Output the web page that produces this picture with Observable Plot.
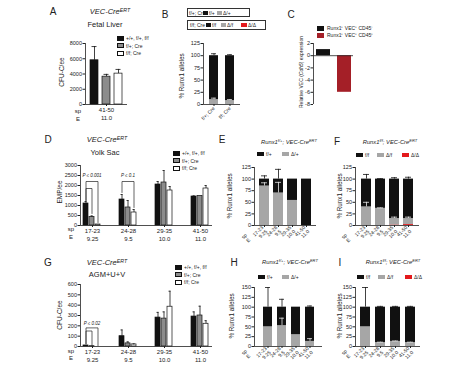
<!DOCTYPE html>
<html><head><meta charset="utf-8">
<script src="https://cdn.jsdelivr.net/npm/d3@7"></script>
<script src="https://cdn.jsdelivr.net/npm/@observablehq/plot@0.6"></script>
<style>
html,body{margin:0;padding:0;background:#fff;}
#fig{position:relative;width:474px;height:375px;overflow:hidden;font-family:"Liberation Sans",Arial,sans-serif;color:#222;background:#fff;}
#fig svg{position:absolute;overflow:visible;}
sup{font-size:70%;vertical-align:0;position:relative;top:-0.45em;}
</style></head><body><div id="fig"></div>
<script>
// ---------- data ----------
const genotypes = ["+/+, f/+, f/f", "f/+; Cre", "f/f; Cre"];
const genoColors = ["#111111", "#8c8c8c", "#ffffff"];
const alleleKeys = ["intact", "delta", "deltaDelta"];
const alleleColors = ["#111111", "#a6a6a6", "#e3191c"];

// A  Fetal liver (CFU-C/ee), one stage
const A_sp = ["41-50"], A_E = ["11.0"];
const A_ctrl = [5800], A_ctrl_sem = [1800];
const A_het = [3650], A_het_sem = [300];
const A_ko = [4050], A_ko_sem = [550];

// B  % Runx1 alleles
const B_bars = ["f/+; Cre", "f/f; Cre"];
const B_delta = [10, 8], B_delta_err = [3, 2];
const B_intact = [90, 92], B_intact_err = [4, 2];

// C  relative VEC expression
const C_groups = ["Runx1\u207A VEC\u207A CD45\u207B", "Runx1\u207A VEC\u207A CD45\u207A"];
const C_values = [1, -6];
const C_colors = ["#111111", "#a41f27"];

// stages
const stages_sp = ["17-23", "24-28", "29-35", "41-50"];
const stages_E = ["9.25", "9.5", "10.0", "11.0"];

// D  Yolk sac EMP/ee
const D_ctrl = [1100, 1300, 2050, 1450], D_ctrl_sem = [100, 250, 150, 30];
const D_het = [420, 900, 2150, 1480], D_het_sem = [60, 350, 600, 0];
const D_ko = [50, 650, 1750, 1850], D_ko_sem = [0, 150, 200, 150];
const D_brackets = [
  {sp: "17-23", a: 0, b: 2, y: 2200, ya: 1250, yb: 150},
  {sp: "17-23", a: 0, b: 1, y: 1850, ya: 1250, yb: 600},
  {sp: "24-28", a: 0, b: 2, y: 2200, ya: 1650, yb: 900}
];
const D_notes = [{sp: "17-23", y: 2480, text: "P \u2264 0.001"}, {sp: "24-28", y: 2480, text: "P \u2264 0.1"}];

// E  Runx1 f/+ ; yolk sac
const E_delta = [85, 70, 54, 0], E_delta_err = [7, 23, 0, 0];
const E_intact = [15, 30, 46, 100], E_intact_err = [7, 21, 0, 0];
// F  Runx1 f/f ; yolk sac
const F_dd = [0, 0, 1, 2];
const F_delta = [40, 37, 14, 13], F_delta_err = [10, 1, 3, 3];
const F_intact = [60, 63, 85, 85], F_intact_err = [10, 1, 3, 4];

// G  AGM+U+V CFU-C/ee
const G_ctrl = [10, 100, 280, 290], G_ctrl_sem = [0, 60, 50, 45];
const G_het = [3, 30, 270, 300], G_het_sem = [0, 15, 65, 90];
const G_ko = [0, 20, 385, 220], G_ko_sem = [0, 5, 150, 30];
const G_brackets = [
  {sp: "17-23", a: 0, b: 2, y: 180, ya: 25, yb: 8},
  {sp: "17-23", a: 0, b: 1, y: 150, ya: 25, yb: 8}
];
const G_notes = [{sp: "17-23", y: 225, text: "P \u2264 0.02"}];

// H  Runx1 f/+ ; AGM
const H_delta = [50, 53, 30, 13], H_delta_err = [0, 19, 0, 7];
const H_intact = [50, 47, 70, 87], H_intact_err = [50, 20, 0, 3];
// I  Runx1 f/f ; AGM
const I_dd = [0, 0, 0, 0];
const I_delta = [50, 10, 13, 10], I_delta_err = [0, 1, 1, 1];
const I_intact = [50, 90, 87, 90], I_intact_err = [50, 2, 2, 2];

// ---------- helpers ----------
const fig = document.getElementById("fig");
const STYLE = {fontSize: "5.5px", fontFamily: "'Liberation Sans', Arial, sans-serif", color: "#222", background: "transparent", overflow: "visible"};

function put(el, left, top) { el.style.left = left + "px"; el.style.top = top + "px"; fig.appendChild(el); }
function txt(html, x, y, o = {}) {
  const d = document.createElement("div");
  const size = o.size || 6, anchor = o.anchor || "middle";
  const tx = anchor === "middle" ? -50 : anchor === "end" ? -100 : 0;
  d.innerHTML = html;
  d.style.cssText = `position:absolute;left:${x}px;top:${y}px;font-size:${size}px;font-style:${o.italic ? "italic" : "normal"};white-space:nowrap;line-height:${o.lh || 1};text-align:center;transform:translate(${tx}%,-50%) rotate(${o.rotate || 0}deg);transform-origin:${anchor === "start" ? "left center" : "center"};`;
  fig.appendChild(d);
}
function sw(x, y, color, w = 7, h = 5, border = true) {
  const d = document.createElement("div");
  d.style.cssText = `position:absolute;left:${x}px;top:${y - h / 2}px;width:${w}px;height:${h}px;background:${color};box-sizing:border-box;${border ? "border:0.8px solid #111;" : ""}`;
  fig.appendChild(d);
}
function box(x1, y1, x2, y2) {
  const d = document.createElement("div");
  d.style.cssText = `position:absolute;left:${x1}px;top:${y1}px;width:${x2 - x1}px;height:${y2 - y1}px;border:0.8px solid #333;box-sizing:border-box;`;
  fig.appendChild(d);
}

function axesOverlay(common, yTicks) {
  return Plot.plot({...common, x: {domain: [0, 1], axis: null}, marks: [
    Plot.ruleY([0], {stroke: "#222", strokeWidth: 0.8}),
    Plot.ruleX([0], {stroke: "#222", strokeWidth: 0.8}),
    Plot.axisY({ticks: yTicks, tickSize: 2.5, tickPadding: 1, tickFormat: d => String(d), label: null, fontSize: 5.5})
  ]});
}

function grouped(c) {
  const mL = 30, mR = 4, mT = 6, mB = 26;
  const width = c.xEnd - c.axisX + mL + mR, height = c.yBot - c.yTop + mT + mB;
  const rows = [];
  c.sp.forEach((g, i) => genotypes.forEach((k, j) => rows.push({g, k, v: c.means[j][i], e: c.sems[j][i]})));
  const errRows = rows.filter(d => d.e > 0);
  const lines = [];
  (c.brackets || []).forEach((b, n) => {
    const a = genotypes[b.a], z = genotypes[b.b];
    lines.push({id: n, g: b.sp, k: a, y: b.ya}, {id: n, g: b.sp, k: a, y: b.y}, {id: n, g: b.sp, k: z, y: b.y}, {id: n, g: b.sp, k: z, y: b.yb});
  });
  const common = {width, height, marginLeft: mL, marginRight: mR, marginTop: mT, marginBottom: mB, style: STYLE, y: {domain: c.yDomain, axis: null}};
  const main = Plot.plot({...common,
    fx: {domain: c.sp, paddingInner: c.fxPad[0], paddingOuter: c.fxPad[1], axis: null, label: null},
    x: {domain: genotypes, paddingInner: c.xPad, paddingOuter: 0, axis: null},
    color: {domain: genotypes, range: genoColors},
    marks: [
      Plot.barY(rows, {fx: "g", x: "k", y: "v", fill: "k", stroke: "#111", strokeWidth: 0.7}),
      Plot.ruleX(errRows, {fx: "g", x: "k", y1: "v", y2: d => d.v + d.e, stroke: "#111", strokeWidth: 0.8}),
      Plot.tickY(errRows, {fx: "g", x: "k", y: d => d.v + d.e, stroke: "#111", strokeWidth: 0.8, insetLeft: 1.5, insetRight: 1.5}),
      Plot.line(lines, {fx: "g", x: "k", y: "y", z: "id", stroke: "#222", strokeWidth: 0.7}),
      Plot.text(c.notes || [], {fx: "sp", x: () => genotypes[1], y: "y", text: "text", fontSize: 4.5, fontStyle: "italic"}),
      Plot.axisFx({anchor: "bottom", tickSize: 2, tickPadding: 0.5, fontSize: 6, lineHeight: 1.25, label: null,
        tickFormat: d => d + "\n" + c.E[c.sp.indexOf(d)]})
    ]});
  put(main, c.axisX - mL, c.yTop - mT);
  put(axesOverlay(common, c.yTicks), c.axisX - mL, c.yTop - mT);
}

function stacked(c) {
  const mL = 24, mR = 4, mT = 6, mB = 34;
  const width = c.xEnd - c.axisX + mL + mR, height = c.yBot - c.yTop + mT + mB;
  const red = c.red || c.bars.map(() => 0);
  const rows = [];
  c.bars.forEach((b, i) => {
    rows.push({b, a: alleleKeys[2], v: red[i]}, {b, a: alleleKeys[1], v: c.gray[i]}, {b, a: alleleKeys[0], v: c.black[i]});
  });
  const gErr = c.bars.map((b, i) => ({b, y1: red[i] + c.gray[i], y2: red[i] + c.gray[i] + c.grayErr[i]})).filter(d => d.y2 > d.y1);
  const kErr = c.bars.map((b, i) => { const t = red[i] + c.gray[i] + c.black[i]; return {b, y1: t, y2: t + c.blackErr[i]}; }).filter(d => d.y2 > d.y1);
  const common = {width, height, marginLeft: mL, marginRight: mR, marginTop: mT, marginBottom: mB, style: STYLE, y: {domain: c.yDomain, axis: null}};
  const main = Plot.plot({...common,
    x: {domain: c.bars, paddingInner: c.pad[0], paddingOuter: c.pad[1], axis: null},
    color: {domain: alleleKeys, range: alleleColors},
    marks: [
      Plot.barY(rows, {x: "b", y: "v", fill: "a", order: [alleleKeys[2], alleleKeys[1], alleleKeys[0]]}),
      Plot.ruleX(gErr, {x: "b", y1: "y1", y2: "y2", stroke: "#e8e8e8", strokeWidth: 0.8}),
      Plot.tickY(gErr, {x: "b", y: "y2", stroke: "#e8e8e8", strokeWidth: 0.8, insetLeft: 2, insetRight: 2}),
      Plot.ruleX(kErr, {x: "b", y1: "y1", y2: "y2", stroke: "#111", strokeWidth: 0.8}),
      Plot.tickY(kErr, {x: "b", y: "y2", stroke: "#111", strokeWidth: 0.8, insetLeft: 2, insetRight: 2}),
      Plot.axisX({tickRotate: -45, tickSize: 2, tickPadding: 1, fontSize: 5, lineHeight: 1.1, label: null,
        tickFormat: d => c.sub ? d + "\n" + c.sub[c.bars.indexOf(d)] : d})
    ]});
  put(main, c.axisX - mL, c.yTop - mT);
  put(axesOverlay(common, c.yTicks), c.axisX - mL, c.yTop - mT);
}

function simpleBars(c) {
  const mL = 24, mR = 4, mT = 6, mB = 10;
  const width = c.xEnd - c.axisX + mL + mR, height = c.yBot - c.yTop + mT + mB;
  const rows = c.groups.map((g, i) => ({g, v: c.values[i]}));
  const common = {width, height, marginLeft: mL, marginRight: mR, marginTop: mT, marginBottom: mB, style: STYLE, y: {domain: c.yDomain, axis: null}};
  const main = Plot.plot({...common,
    x: {domain: c.groups, paddingInner: c.pad[0], paddingOuter: c.pad[1], axis: null},
    color: {domain: c.groups, range: c.colors},
    marks: [Plot.barY(rows, {x: "g", y: "v", fill: "g"})]});
  put(main, c.axisX - mL, c.yTop - mT);
  put(axesOverlay(common, c.yTicks), c.axisX - mL, c.yTop - mT);
}

// ---------- panels ----------
grouped({axisX: 85, xEnd: 127, yTop: 43, yBot: 104, yDomain: [0, 8000], yTicks: [0, 2000, 4000, 6000, 8000],
  sp: A_sp, E: A_E, means: [A_ctrl, A_het, A_ko], sems: [A_ctrl_sem, A_het_sem, A_ko_sem], fxPad: [0.1, 0.1], xPad: 0.3});
grouped({axisX: 80, xEnd: 212, yTop: 165, yBot: 225, yDomain: [0, 3000], yTicks: [0, 500, 1000, 1500, 2000, 2500, 3000],
  sp: stages_sp, E: stages_E, means: [D_ctrl, D_het, D_ko], sems: [D_ctrl_sem, D_het_sem, D_ko_sem],
  brackets: D_brackets, notes: D_notes, fxPad: [0.45, 0.03], xPad: 0.1});
grouped({axisX: 80, xEnd: 212, yTop: 284, yBot: 346, yDomain: [0, 600], yTicks: [0, 100, 200, 300, 400, 500, 600],
  sp: stages_sp, E: stages_E, means: [G_ctrl, G_het, G_ko], sems: [G_ctrl_sem, G_het_sem, G_ko_sem],
  brackets: G_brackets, notes: G_notes, fxPad: [0.45, 0.03], xPad: 0.1});

const pctTicks = [0, 25, 50, 75, 100, 125];
const pctTicks150 = [0, 25, 50, 75, 100, 125, 150];
stacked({axisX: 203, xEnd: 240, yTop: 43, yBot: 104, yDomain: [0, 125], yTicks: pctTicks, bars: B_bars,
  gray: B_delta, grayErr: B_delta_err, black: B_intact, blackErr: B_intact_err, pad: [0.45, 0.35]});
stacked({axisX: 254, xEnd: 316, yTop: 167, yBot: 225, yDomain: [0, 125], yTicks: pctTicks, bars: stages_sp, sub: stages_E,
  gray: E_delta, grayErr: E_delta_err, black: E_intact, blackErr: E_intact_err, pad: [0.3, 0.3]});
stacked({axisX: 355, xEnd: 419, yTop: 167, yBot: 225, yDomain: [0, 125], yTicks: pctTicks, bars: stages_sp, sub: stages_E,
  red: F_dd, gray: F_delta, grayErr: F_delta_err, black: F_intact, blackErr: F_intact_err, pad: [0.32, 0.34]});
stacked({axisX: 254, xEnd: 322, yTop: 287, yBot: 346, yDomain: [0, 150], yTicks: pctTicks150, bars: stages_sp, sub: stages_E,
  gray: H_delta, grayErr: H_delta_err, black: H_intact, blackErr: H_intact_err, pad: [0.37, 0.47]});
stacked({axisX: 355, xEnd: 420, yTop: 287, yBot: 346, yDomain: [0, 150], yTicks: pctTicks150, bars: stages_sp, sub: stages_E,
  red: I_dd, gray: I_delta, grayErr: I_delta_err, black: I_intact, blackErr: I_intact_err, pad: [0.33, 0.33]});
simpleBars({axisX: 313, xEnd: 353, yTop: 43, yBot: 104, yDomain: [-8, 2], yTicks: [2, 0, -2, -4, -6, -8],
  groups: C_groups, values: C_values, colors: C_colors, pad: [0.35, 0.12]});

// ---------- text, titles, legends ----------
const VEC = "VEC-Cre<sup>ERT</sup>";
[["A", 53, 12], ["B", 165, 15], ["C", 291, 15], ["D", 48, 140], ["E", 222, 140], ["F", 337, 142], ["G", 48, 263], ["H", 234, 263], ["I", 340, 263]]
  .forEach(([l, x, y]) => txt(l, x, y, {size: 10}));

txt(VEC, 110, 12, {size: 7.5, italic: true});
txt("Fetal Liver", 105, 25, {size: 7.5});
txt(VEC, 107, 140, {size: 7.5, italic: true});
txt("Yolk Sac", 105, 153, {size: 7.5});
txt(VEC, 107, 263, {size: 7.5, italic: true});
txt("AGM+U+V", 107, 275, {size: 7.5});
txt("Runx1<sup>f/+</sup>; " + VEC, 289, 143, {size: 5.8, italic: true});
txt("Runx1<sup>f/f</sup>; " + VEC, 390, 143, {size: 5.8, italic: true});
txt("Runx1<sup>f/+</sup>; " + VEC, 290, 263, {size: 5.8, italic: true});
txt("Runx1<sup>f/f</sup>; " + VEC, 393, 263, {size: 5.8, italic: true});

// y labels
txt("CFU-C/ee", 62, 72, {size: 6.5, rotate: -90});
txt("EMP/ee", 60, 192, {size: 6.5, rotate: -90});
txt("CFU-C/ee", 60, 315, {size: 6.5, rotate: -90});
txt("% Runx1 alleles", 182, 76, {size: 6.3, rotate: -90});
txt("% Runx1 alleles", 230, 196, {size: 6.3, rotate: -90});
txt("% Runx1 alleles", 340, 196, {size: 6.3, rotate: -90});
txt("% Runx1 alleles", 232, 316, {size: 6.3, rotate: -90});
txt("% Runx1 alleles", 340, 316, {size: 6.3, rotate: -90});
txt("Relative VEC (<i>Cdh5</i>) expression", 301, 72, {size: 5, rotate: -90});

// sp / E row labels
[[78, 111, 118.5], [71, 229, 237], [71, 350.5, 358]].forEach(([x, y1, y2]) => { txt("sp", x, y1, {size: 6}); txt("E", x, y2, {size: 6}); });
[[246, 238], [346, 238], [246, 354], [346, 354]].forEach(([x, y]) => txt("sp<br>E", x, y, {size: 5, rotate: -45, lh: 1.2}));

// genotype legends (A, D, G)
[[117, 38], [173, 153], [175, 267]].forEach(([x, y]) => {
  genotypes.forEach((g, i) => { sw(x, y + i * 7.5, genoColors[i], 7, 5); txt(g, x + 9, y + i * 7.5, {size: 5, anchor: "start"}); });
});

// C legend
C_groups.forEach((g, i) => { sw(317, 28 + i * 7, C_colors[i], 7, 5, false); txt(g, 327, 28 + i * 7, {size: 5, anchor: "start"}); });

// B legend boxes
box(187, 8, 250, 17);
txt("f/+; Cre", 189, 12.5, {size: 5, anchor: "start"});
sw(203, 12.5, alleleColors[0], 5, 4, false); txt("f/+", 209, 12.5, {size: 5, anchor: "start"});
sw(217, 12.5, alleleColors[1], 5, 4, false); txt("\u0394/+", 223, 12.5, {size: 5, anchor: "start"});
box(187, 20, 266, 30);
txt("f/f; Cre", 190, 25, {size: 5, anchor: "start"});
sw(206, 25, alleleColors[0], 5, 4, false); txt("f/f", 212, 25, {size: 5, anchor: "start"});
sw(221, 25, alleleColors[1], 5, 4, false); txt("\u0394/f", 227, 25, {size: 5, anchor: "start"});
sw(241, 25, alleleColors[2], 6, 4, false); txt("\u0394/\u0394", 248, 25, {size: 5, anchor: "start"});

// allele legends E, F, H, I
function alleleLegend(y, items) {
  items.forEach(([x, ci, lab]) => { sw(x, y, alleleColors[ci], 7, 4, false); txt(lab, x + 9, y, {size: 5, anchor: "start"}); });
}
alleleLegend(154, [[257, 0, "f/+"], [282, 1, "\u0394/+"]]);
alleleLegend(155, [[356, 0, "f/f"], [377, 1, "\u0394/f"], [402, 2, "\u0394/\u0394"]]);
alleleLegend(277, [[258, 0, "f/+"], [282, 1, "\u0394/+"]]);
alleleLegend(277, [[357, 0, "f/f"], [378, 1, "\u0394/f"], [405, 2, "\u0394/\u0394"]]);
</script></body></html>
